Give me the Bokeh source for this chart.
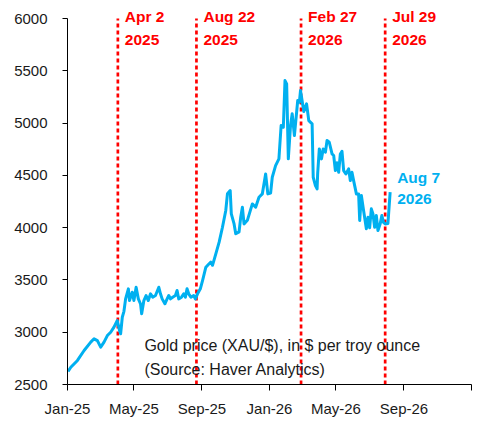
import pandas as pd
from bokeh.plotting import figure
from bokeh.models import Label, FixedTicker
from bokeh.embed import file_html
from bokeh.resources import INLINE

dates = [
    "2025-01-02", "2025-01-07", "2025-01-19", "2025-01-31", "2025-02-12", "2025-02-18",
    "2025-02-24", "2025-03-02", "2025-03-08", "2025-03-14", "2025-03-20", "2025-03-26",
    "2025-04-01", "2025-04-05", "2025-04-07", "2025-04-10", "2025-04-13", "2025-04-16",
    "2025-04-21", "2025-04-23", "2025-04-28", "2025-05-01", "2025-05-05", "2025-05-09",
    "2025-05-13", "2025-05-15", "2025-05-19", "2025-05-23", "2025-05-27", "2025-05-31",
    "2025-06-04", "2025-06-09", "2025-06-15", "2025-06-18", "2025-06-21", "2025-06-26",
    "2025-06-30", "2025-07-03", "2025-07-06", "2025-07-10", "2025-07-15", "2025-07-18",
    "2025-07-21", "2025-07-26", "2025-07-30", "2025-08-02", "2025-08-05", "2025-08-08",
    "2025-08-12", "2025-08-17", "2025-08-20", "2025-08-24", "2025-08-29", "2025-09-02",
    "2025-09-08", "2025-09-13", "2025-09-17", "2025-09-20", "2025-09-26", "2025-10-02",
    "2025-10-08", "2025-10-14", "2025-10-17", "2025-10-22", "2025-10-24", "2025-10-29",
    "2025-11-01", "2025-11-07", "2025-11-10", "2025-11-13", "2025-11-16", "2025-11-22",
    "2025-12-01", "2025-12-07", "2025-12-13", "2025-12-19", "2025-12-25", "2025-12-29",
    "2026-01-03", "2026-01-06", "2026-01-12", "2026-01-18", "2026-01-22", "2026-01-26",
    "2026-01-29", "2026-02-01", "2026-02-04", "2026-02-08", "2026-02-11", "2026-02-15",
    "2026-02-21", "2026-02-24", "2026-02-26", "2026-03-04", "2026-03-09", "2026-03-13",
    "2026-03-19", "2026-03-21", "2026-03-25", "2026-03-28", "2026-03-29", "2026-04-01",
    "2026-04-05", "2026-04-08", "2026-04-12", "2026-04-15", "2026-04-19", "2026-04-24",
    "2026-04-27", "2026-04-30", "2026-05-03", "2026-05-06", "2026-05-09", "2026-05-12",
    "2026-05-15", "2026-05-19", "2026-05-24", "2026-05-27", "2026-05-30", "2026-06-02",
    "2026-06-07", "2026-06-11", "2026-06-13", "2026-06-16", "2026-06-20", "2026-06-25",
    "2026-06-28", "2026-07-01", "2026-07-04", "2026-07-07", "2026-07-10", "2026-07-13",
    "2026-07-16", "2026-07-20", "2026-07-23", "2026-07-26", "2026-07-29", "2026-08-03",
    "2026-08-07",
]
gold_price = [
    2625, 2665, 2730, 2825, 2905, 2937,
    2920, 2857, 2905, 2968, 3000, 3048,
    3112, 3016, 2985, 3143, 3200, 3319,
    3415, 3303, 3383, 3303, 3430, 3319,
    3270, 3176, 3303, 3351, 3303, 3367,
    3335, 3351, 3430, 3367, 3319, 3272,
    3319, 3351, 3319, 3335, 3351, 3399,
    3319, 3335, 3367, 3335, 3415, 3367,
    3335, 3351, 3319, 3367, 3415, 3494,
    3622, 3650, 3670, 3640, 3750, 3861,
    4004, 4164, 4324, 4355, 4132, 4036,
    3941, 3960, 4100, 4195, 4036, 4070,
    4227, 4195, 4291, 4323, 4514, 4323,
    4330, 4482, 4594, 4658, 4977, 4960,
    5407, 5375, 4658, 4977, 5089, 4881,
    5216, 5200, 5311, 5110, 5184, 5024,
    4993, 4482, 4403, 4371, 4514, 4753,
    4658, 4753, 4721, 4833, 4817, 4705,
    4690, 4546, 4620, 4530, 4705, 4730,
    4546, 4514, 4562, 4450, 4530, 4450,
    4323, 4323, 4068, 4307, 4164, 3989,
    4100, 4000, 4180, 4130, 4004, 4116,
    3973, 4036, 4116, 4050, 4036, 4040,
    4339,
]

event_dates = ["2025-04-02", "2025-08-22", "2026-02-27", "2026-07-29"]
event_line1 = ["Apr 2", "Aug 22", "Feb 27", "Jul 29"]
event_line2 = ["2025", "2025", "2026", "2026"]

end_line1 = "Aug 7"
end_line2 = "2026"

tick_dates = ["2025-01-01", "2025-05-01", "2025-09-01", "2026-01-01",
              "2026-05-01", "2026-09-01", "2027-01-01"]
tick_labels = ["Jan-25", "May-25", "Sep-25", "Jan-26", "May-26", "Sep-26", ""]
y_ticks = [2500, 3000, 3500, 4000, 4500, 5000, 5500, 6000]

note_line1 = "Gold price (XAU/$), in $ per troy ounce"
note_line2 = "(Source: Haver Analytics)"

BLUE = "#00B0F0"
RED = "#FF0000"
TXT = "#1a1a1a"
FONT = "Liberation Sans"

x = pd.to_datetime(dates)
ev = pd.to_datetime(event_dates)
tk = pd.to_datetime(tick_dates)

def ms(ts):
    return ts.value / 1e6

p = figure(
    x_axis_type="datetime",
    x_range=(pd.Timestamp("2025-01-01"), pd.Timestamp("2027-01-01")),
    y_range=(2500, 6096),
    frame_width=404, frame_height=376,
    min_border_left=67, min_border_top=8, min_border_right=1, min_border_bottom=10,
    output_backend="svg", toolbar_location=None,
)
p.outline_line_color = None
p.grid.visible = False

# event lines
p.segment(x0=ev, x1=ev, y0=[2500] * len(ev), y1=[6000] * len(ev),
          line_color=RED, line_width=2.7, line_dash="4 3")

# gold line
p.line(x, gold_price, line_color=BLUE, line_width=3, line_join="round")

# axes
p.xaxis.ticker = FixedTicker(ticks=[ms(t) for t in tk])
p.xaxis.major_label_overrides = {ms(t): lab for t, lab in zip(tk, tick_labels)}
p.yaxis.ticker = FixedTicker(ticks=y_ticks)
p.yaxis.bounds = (2500, 6000)
for ax in (p.xaxis, p.yaxis):
    ax.axis_line_color = "black"
    ax.axis_line_width = 1
    ax.major_tick_line_color = "black"
    ax.minor_tick_line_color = None
    ax.major_tick_in = 0
    ax.major_label_text_font = FONT
    ax.major_label_text_font_size = "15px"
    ax.major_label_text_color = TXT
p.xaxis.major_tick_out = 6
p.yaxis.major_tick_out = 5
p.yaxis.major_label_standoff = 15
p.xaxis.major_label_standoff = 9

# event labels
for d, l1, l2 in zip(ev, event_line1, event_line2):
    p.add_layout(Label(x=d, y=6000, text=l1, x_offset=7, y_offset=2,
                       text_font=FONT, text_font_style="bold", text_font_size="15.5px",
                       text_color=RED, text_baseline="middle"))
    p.add_layout(Label(x=d, y=6000, text=l2, x_offset=7, y_offset=-21,
                       text_font=FONT, text_font_style="bold", text_font_size="15.5px",
                       text_color=RED, text_baseline="middle"))

# end label
p.add_layout(Label(x=x[-1], y=gold_price[-1], text=end_line1, x_offset=7, y_offset=15,
                   text_font=FONT, text_font_style="bold", text_font_size="15.5px",
                   text_color=BLUE, text_baseline="middle"))
p.add_layout(Label(x=x[-1], y=gold_price[-1], text=end_line2, x_offset=7, y_offset=-7,
                   text_font=FONT, text_font_style="bold", text_font_size="15.5px",
                   text_color=BLUE, text_baseline="middle"))

# note
p.add_layout(Label(x=pd.Timestamp("2025-05-20"), y=2873, text=note_line1,
                   text_font=FONT, text_font_size="16px", text_color=TXT,
                   text_baseline="middle"))
p.add_layout(Label(x=pd.Timestamp("2025-05-20"), y=2873, text=note_line2, y_offset=-24,
                   text_font=FONT, text_font_size="16px", text_color=TXT,
                   text_baseline="middle"))

open("out.html", "w").write(file_html(p, INLINE))
